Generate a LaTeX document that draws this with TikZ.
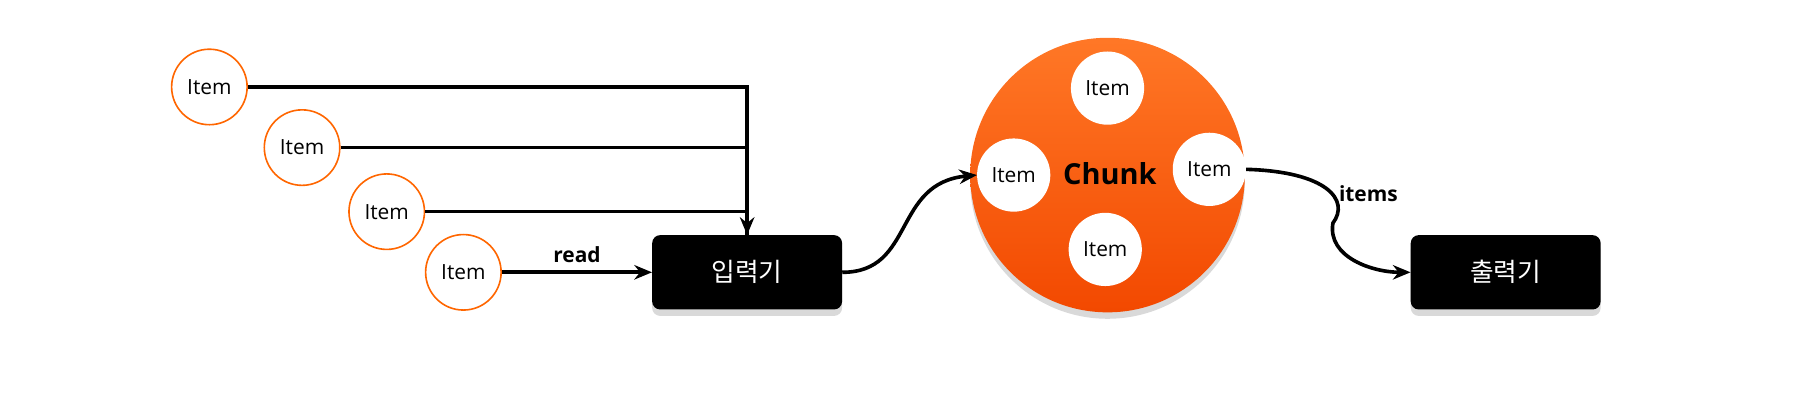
\documentclass[tikz,border=0pt]{standalone}
\usepackage{fontspec}
\setmainfont{Open Sans}
\newfontfamily\krfont{Noto Sans CJK KR}
\usetikzlibrary{shadows,arrows.meta}

\tikzset{
  itemnode/.style={circle, draw=orange!80!red, line width=2pt, fill=white, minimum size=3.3cm, inner sep=0pt, font=\fontsize{26}{30}\selectfont},
  inneritem/.style={circle, fill=white, minimum size=3.2cm, inner sep=0pt, font=\fontsize{26}{30}\selectfont},
  procbox/.style={rounded corners=10pt, fill=black, text=white, minimum width=8.3cm, minimum height=3.25cm, font=\krfont\fontsize{32}{36}\selectfont, drop shadow={opacity=0.3, shadow xshift=0pt, shadow yshift=-8pt}},
  flow/.style={line width=4.5pt, -{Stealth[length=22pt, width=18pt]}},
  lbl/.style={font=\bfseries\fontsize{26}{30}\selectfont}
}

\begin{document}
\begin{tikzpicture}[x=0.05cm, y=-0.05cm]
    \useasboundingbox (0,0) rectangle (1568,350.5);

    \node[itemnode]  (I1)  at (183,  76)  {Item};
    \node[itemnode]  (I2)  at (264, 129)  {Item};
    \node[itemnode]  (I3)  at (338, 185)  {Item};
    \node[itemnode]  (I4)  at (405, 238)  {Item};

    \node[procbox]   (R)   at (653, 238)  {입력기};
    \node[procbox]   (W)   at (1316, 238) {출력기};

    \node[circle, minimum size=12cm, top color=orange!75!red!85, bottom color=orange!60!red!95!black, drop shadow={opacity=0.3, shadow xshift=0pt, shadow yshift=-8pt}] (C) at (968, 153) {};
    \node[font=\bfseries\fontsize{36}{40}\selectfont] (CT) at (970, 152) {Chunk};
    \node[inneritem] (C1)  at (968,  77)  {Item};
    \node[inneritem] (C2)  at (886, 153)  {Item};
    \node[inneritem] (C3)  at (1057, 148) {Item};
    \node[inneritem] (C4)  at (966, 218)  {Item};

    \coordinate (J) at (R.north);
    \draw[line width=4.5pt] (I1.east) -| (653, 76) -- (J);
    \draw[line width=4.5pt] (I2.east) -- (653, 129);
    \draw[flow] (I3.east) -| (J);
    \draw[flow] (I4.east) -- (R.west) node[lbl, midway, above=6pt] {read};

    \draw[flow] (R.east) .. controls (800, 238) and (780, 160) .. (C2.west);
    \draw[flow] (C3.east) .. controls (1160, 150) and (1180, 175) .. (1165, 195) .. controls (1160, 225) and (1200, 238) .. (W.west);
    \node[lbl] (IL) at (1196, 169) {items};
\end{tikzpicture}
\end{document}
